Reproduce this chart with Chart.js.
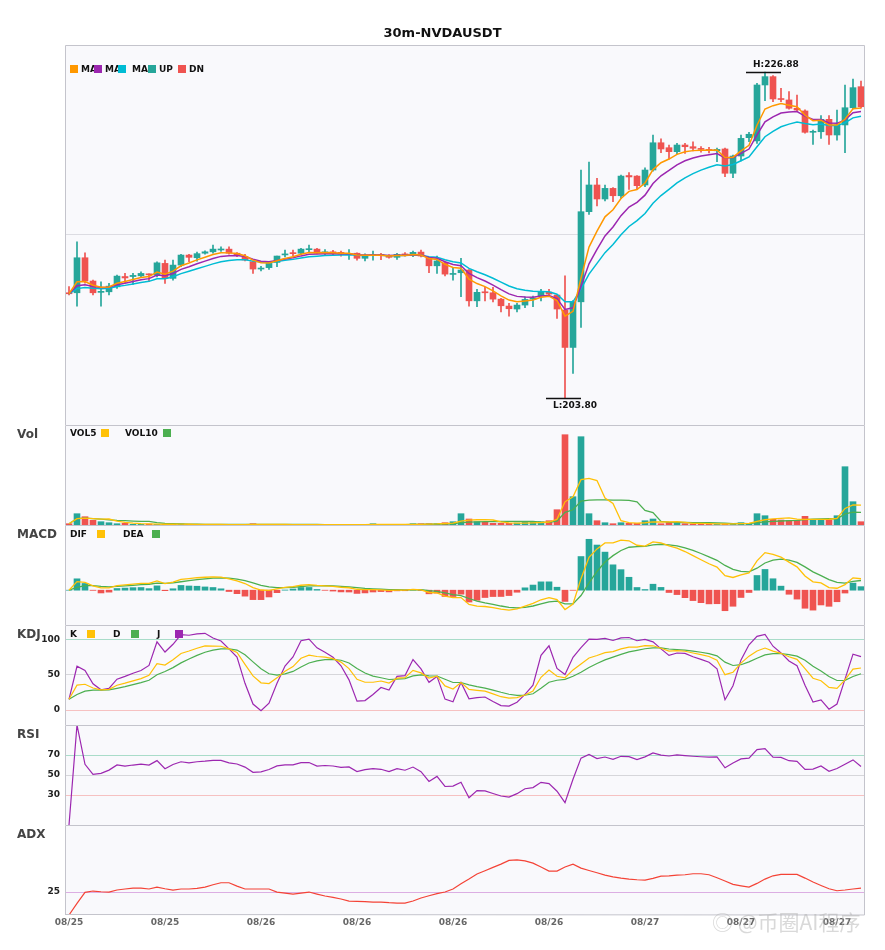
<!DOCTYPE html>
<html lang="zh">
<head>
<meta charset="UTF-8">
<title>30m-NVDAUSDT</title>
<script src="https://cdn.jsdelivr.net/npm/chart.js@4.4.1/dist/chart.umd.min.js"></script>
<style>
  body { margin: 0; background: #fff; }
  #wrap { position: relative; width: 885px; height: 950px; }
  .panel { position: absolute; left: 0; width: 885px; }
  .mark { position: absolute; left: 712px; top: 906px; font: 21px "Noto Sans CJK SC", sans-serif; color: rgba(170, 170, 170, 0.45); white-space: nowrap; }
</style>
</head>
<body>
<div id="wrap">
  <div class="panel" style="top:0;height:425px"><canvas id="mainChart"></canvas></div>
  <div class="panel" style="top:425px;height:100px"><canvas id="volChart"></canvas></div>
  <div class="panel" style="top:525px;height:100px"><canvas id="macdChart"></canvas></div>
  <div class="panel" style="top:625px;height:100px"><canvas id="kdjChart"></canvas></div>
  <div class="panel" style="top:725px;height:100px"><canvas id="rsiChart"></canvas></div>
  <div class="panel" style="top:825px;height:125px"><canvas id="adxChart"></canvas></div>
  <div class="mark">◎ @币圈AI程序</div>
</div>

<script>
// 30m candles
const openP = [211.22, 211.25, 213.73, 212.08, 211.28, 211.32, 211.67, 212.40, 212.40, 212.45,
  212.58, 212.50, 213.33, 212.27, 213.21, 213.92, 213.73, 214.05, 214.15, 214.28,
  214.34, 214.05, 213.80, 213.45, 212.93, 213.03, 213.40, 213.93, 214.08, 214.05,
  214.30, 214.34, 214.08, 214.14, 214.11, 213.95, 214.05, 213.69, 213.90, 213.96,
  213.88, 213.76, 214.00, 213.88, 214.13, 213.69, 213.16, 213.37, 212.55, 212.67,
  212.86, 210.68, 211.32, 211.25, 210.80, 210.31, 210.10, 210.38, 210.80, 211.02,
  211.30, 211.09, 210.03, 207.38, 210.61, 216.99, 218.88, 217.89, 218.64, 218.12,
  219.55, 219.51, 218.88, 219.94, 221.87, 221.52, 221.24, 221.71, 221.59, 221.46,
  221.40, 221.30, 221.43, 219.71, 220.93, 222.23, 222.00, 225.96, 226.55, 225.00,
  224.90, 224.31, 224.12, 222.61, 222.65, 223.53, 222.42, 223.13, 224.35, 225.84];
const highP = [211.68, 214.86, 214.08, 212.15, 212.03, 211.92, 212.50, 212.62, 212.62, 212.74,
  212.60, 213.44, 213.57, 213.57, 213.97, 213.97, 214.13, 214.22, 214.62, 214.50,
  214.50, 214.10, 213.97, 213.50, 213.13, 213.45, 213.85, 214.27, 214.27, 214.40,
  214.62, 214.40, 214.30, 214.25, 214.20, 214.30, 214.08, 214.00, 214.20, 214.05,
  213.95, 214.05, 214.10, 214.20, 214.27, 213.75, 213.85, 213.45, 212.98, 213.69,
  212.90, 211.49, 211.63, 211.63, 210.85, 210.50, 210.50, 210.97, 211.02, 211.49,
  211.49, 211.10, 212.45, 210.70, 219.94, 220.51, 219.35, 218.88, 218.70, 219.59,
  219.75, 219.55, 220.10, 222.42, 222.14, 221.71, 221.83, 221.83, 221.94, 221.60,
  221.55, 221.50, 221.50, 221.00, 222.42, 222.61, 226.08, 226.88, 226.62, 225.72,
  225.49, 225.25, 224.20, 222.77, 223.79, 223.79, 224.19, 225.96, 226.38, 226.24];
const lowP = [211.09, 210.31, 211.93, 211.09, 210.31, 211.09, 211.55, 211.96, 211.85, 212.34,
  212.03, 212.38, 211.92, 212.15, 213.10, 213.45, 213.48, 213.98, 214.05, 214.17,
  213.98, 213.80, 213.50, 212.62, 212.79, 212.90, 213.10, 213.78, 213.85, 214.00,
  214.15, 214.00, 213.95, 213.90, 213.85, 213.62, 213.55, 213.50, 213.55, 213.60,
  213.70, 213.62, 213.85, 213.80, 213.78, 212.67, 212.62, 212.45, 212.15, 210.97,
  210.31, 210.26, 210.68, 210.61, 209.90, 209.60, 209.90, 210.20, 210.26, 210.68,
  211.10, 209.44, 203.80, 205.54, 208.80, 216.80, 217.39, 217.75, 217.70, 217.93,
  218.57, 218.57, 218.76, 219.85, 221.17, 220.70, 221.10, 221.12, 221.30, 221.20,
  221.15, 220.53, 219.47, 219.40, 220.58, 221.94, 221.83, 224.85, 224.78, 224.78,
  224.25, 224.07, 222.54, 221.76, 222.18, 221.76, 222.06, 221.17, 224.26, 224.31];
const closeP = [211.18, 213.73, 212.08, 211.25, 211.35, 211.72, 212.43, 212.30, 212.48, 212.62,
  212.52, 213.37, 212.27, 213.21, 213.92, 213.76, 214.02, 214.15, 214.34, 214.34,
  214.05, 213.92, 213.57, 212.93, 213.00, 213.33, 213.85, 214.00, 214.02, 214.34,
  214.35, 214.05, 214.12, 214.08, 213.98, 214.02, 213.69, 213.85, 213.94, 213.90,
  213.76, 213.97, 213.88, 214.11, 213.85, 213.16, 213.50, 212.57, 212.60, 212.86,
  210.68, 211.28, 211.25, 210.80, 210.33, 210.12, 210.38, 210.78, 210.87, 211.32,
  211.16, 210.10, 207.38, 210.61, 216.99, 218.88, 217.89, 218.64, 218.12, 219.51,
  219.45, 218.83, 219.94, 221.87, 221.43, 221.24, 221.71, 221.59, 221.48, 221.40,
  221.33, 221.40, 219.71, 220.93, 222.18, 222.47, 225.96, 226.55, 224.97, 224.93,
  224.31, 224.19, 222.61, 222.68, 223.53, 222.42, 223.13, 224.35, 225.77, 224.42];
const volume = [1300, 11300, 8300, 4700, 3300, 2300, 1300, 1700, 700, 700,
  1000, 700, 700, 700, 1000, 700, 500, 400, 500, 400,
  500, 400, 500, 1300, 400, 400, 500, 300, 300, 400,
  300, 400, 300, 300, 300, 400, 500, 300, 1300, 400,
  300, 400, 300, 1300, 1300, 1300, 1300, 2300, 3300, 11300,
  6000, 3300, 2700, 1700, 1700, 1700, 2000, 2700, 2700, 3300,
  4300, 15300, 90300, 28300, 88300, 11300, 4300, 2300, 1300, 2300,
  1700, 1700, 4300, 6000, 1300, 2700, 2300, 1300, 1000, 1000,
  1000, 1000, 1000, 1700, 2300, 1700, 11300, 9300, 5700, 5000,
  4300, 4700, 8700, 5300, 5000, 5000, 9300, 58300, 23300, 3300];
const adxVals = [0, 12.6, 24.6, 26.1, 25.3, 25.0, 27.2, 28.3, 29.3, 29.3,
  28.3, 30.4, 28.6, 27.2, 28.3, 28.3, 28.9, 30.4, 32.9, 35.1,
  35.1, 31.5, 28.3, 28.3, 28.3, 28.3, 25.0, 23.9, 22.8, 23.9,
  25.0, 22.8, 20.7, 19.2, 17.4, 15.2, 14.9, 14.5, 14.1, 14.1,
  13.4, 13.0, 13.0, 15.2, 18.5, 21.0, 23.2, 25.0, 28.3, 34.0,
  39.1, 44.6, 48.2, 51.8, 55.4, 59.4, 60.1, 59.0, 56.5, 52.2,
  47.8, 47.8, 52.2, 55.4, 51.1, 48.5, 46.0, 43.5, 41.6, 40.2,
  39.1, 38.4, 38.0, 39.8, 42.4, 42.7, 43.5, 43.8, 44.9, 44.9,
  43.8, 40.5, 37.0, 33.3, 31.8, 30.4, 34.4, 39.1, 42.7, 44.2,
  44.2, 44.2, 40.2, 35.9, 32.2, 28.6, 26.4, 27.2, 28.3, 29.3];

const startTime = new Date(2025, 7, 25, 14, 0);
const timeLabels = closeP.map((_, i) => {
  const d = new Date(startTime.getTime() + i * 30 * 60000);
  const p = n => String(n).padStart(2, '0');
  return `${p(d.getMonth() + 1)}/${p(d.getDate())} ${p(d.getHours())}:${p(d.getMinutes())}`;
});

const UP = '#26a69a', DN = '#ef5350';
const FONT = '"DejaVu Sans", sans-serif';

// indicators
function ma(arr, n) {
  return arr.map((_, i) => {
    const s = arr.slice(Math.max(0, i - n + 1), i + 1);
    return s.reduce((a, b) => a + b, 0) / s.length;
  });
}
function ema(arr, n) {
  const k = 2 / (n + 1);
  const out = [arr[0]];
  for (let i = 1; i < arr.length; i++) out.push(arr[i] * k + out[i - 1] * (1 - k));
  return out;
}
function rsiCalc(arr, n) {
  const out = [0];
  let ag = 0, al = 0;
  for (let i = 1; i < arr.length; i++) {
    const d = arr[i] - arr[i - 1];
    const g = Math.max(d, 0), l = Math.max(-d, 0);
    const m = Math.min(i, n);
    ag = (ag * (m - 1) + g) / m;
    al = (al * (m - 1) + l) / m;
    out.push(ag + al === 0 ? 50 : ag / (ag + al) * 100);
  }
  return out;
}
function kdjCalc(n) {
  const K = [], D = [], J = [];
  closeP.forEach((c, i) => {
    const s = Math.max(0, i - n + 1);
    const hh = Math.max(...highP.slice(s, i + 1));
    const ll = Math.min(...lowP.slice(s, i + 1));
    const rsv = hh === ll ? 50 : (c - ll) / (hh - ll) * 100;
    const k = i === 0 ? rsv : K[i - 1] * 2 / 3 + rsv / 3;
    const d = i === 0 ? rsv : D[i - 1] * 2 / 3 + k / 3;
    K.push(k); D.push(d); J.push(3 * k - 2 * d);
  });
  return { K, D, J };
}

const ma5 = ema(closeP, 5), ma10 = ema(closeP, 8), ma20 = ema(closeP, 13);
const vol5 = ma(volume, 5), vol10 = ma(volume, 10);
const emaFast = ema(closeP, 6), emaSlow = ema(closeP, 13);
const dif = emaFast.map((v, i) => v - emaSlow[i]);
const dea = ema(dif, 5);
const macdHist = dif.map((v, i) => (v - dea[i]) * 2);
const kdj = kdjCalc(9);
const rsi = rsiCalc(closeP, 14);
const candleColors = closeP.map((c, i) => c >= openP[i] ? UP : DN);

// MACD panel range with some room above and below
const macdAll = dif.concat(dea, macdHist);
const macdHi = Math.max(...macdAll), macdLo = Math.min(...macdAll);
const macdPad = (macdHi - macdLo) * 0.2;

Chart.defaults.font.family = FONT;
Chart.defaults.animation = false;

// background, border, side title and legend for each panel
function panelPlugin(title, legend, lastPanel) {
  return {
    id: 'panel',
    beforeDraw(chart) {
      const a = chart.chartArea, ctx = chart.ctx;
      ctx.save();
      ctx.fillStyle = '#f9f9fc';
      ctx.fillRect(a.left, a.top, a.right - a.left, a.bottom - a.top);
      ctx.restore();
    },
    afterDraw(chart) {
      const a = chart.chartArea, ctx = chart.ctx;
      ctx.save();
      ctx.strokeStyle = '#c4c4cc';
      ctx.lineWidth = 1;
      ctx.beginPath();
      ctx.moveTo(a.left + 0.5, a.bottom);
      ctx.lineTo(a.left + 0.5, a.top + 0.5);
      ctx.lineTo(a.right - 0.5, a.top + 0.5);
      ctx.lineTo(a.right - 0.5, a.bottom);
      if (lastPanel) ctx.lineTo(a.left + 0.5, a.bottom - 0.5);
      ctx.stroke();
      ctx.textBaseline = 'middle';
      ctx.textAlign = 'left';
      if (title) {
        ctx.fillStyle = '#444';
        ctx.font = 'bold 12px ' + FONT;
        ctx.fillText(title, 17, a.top + 10);
      }
      ctx.font = 'bold 9px ' + FONT;
      legend.forEach((it, k) => {
        const cy = a.top + it.dy;
        ctx.fillStyle = it.color;
        ctx.fillRect(it.bx, cy - 4, 8, 8);
        ctx.save();
        const next = legend[k + 1];
        if (next && next.bx > it.tx) {
          ctx.beginPath();
          ctx.rect(it.tx, cy - 8, next.bx - it.tx, 16);
          ctx.clip();
        }
        ctx.fillStyle = '#111';
        ctx.fillText(it.text, it.tx, cy + 0.5);
        ctx.restore();
      });
      ctx.restore();
    }
  };
}

const titlePlugin = {
  id: 'mainTitle',
  afterDraw(chart) {
    const ctx = chart.ctx;
    ctx.save();
    ctx.fillStyle = '#111';
    ctx.font = 'bold 13px ' + FONT;
    ctx.textAlign = 'center';
    ctx.textBaseline = 'middle';
    ctx.fillText('30m-NVDAUSDT', chart.width / 2, 34);
    ctx.restore();
  }
};

const hlPlugin = {
  id: 'hl',
  afterDatasetsDraw(chart) {
    const ctx = chart.ctx, x = chart.scales.x, y = chart.scales.y;
    const hi = highP.indexOf(Math.max(...highP));
    const lo = lowP.indexOf(Math.min(...lowP));
    ctx.save();
    ctx.strokeStyle = '#111';
    ctx.fillStyle = '#111';
    ctx.lineWidth = 1.5;
    ctx.font = 'bold 9px ' + FONT;
    ctx.textAlign = 'left';
    [[hi, highP[hi], 'H:', -1], [lo, lowP[lo], 'L:', 1]].forEach(([i, v, p, dir]) => {
      const px = x.getPixelForValue(i), py = Math.round(y.getPixelForValue(v)) + 0.5;
      ctx.beginPath();
      ctx.moveTo(px - 19, py);
      ctx.lineTo(px + 16, py);
      ctx.stroke();
      ctx.textBaseline = dir < 0 ? 'bottom' : 'top';
      ctx.fillText(p + v.toFixed(2), px - 12, py + dir * 3);
    });
    ctx.restore();
  }
};

function xScale(show) {
  return {
    type: 'category',
    labels: timeLabels,
    offset: true,
    display: show,
    grid: { display: false, drawTicks: false },
    border: { display: false },
    ticks: {
      autoSkip: false, maxRotation: 0, padding: 2,
      color: '#666', font: { size: 9, weight: 'bold' },
      callback: function (v, i) { return i % 12 === 0 ? this.getLabelForValue(v).slice(0, 5) : null; }
    },
    afterFit: s => {
      s.paddingLeft = 0; s.paddingRight = 0;
      if (show) s.height = 35;
    }
  };
}

function yScale(opts, tickVals, colors) {
  return Object.assign({
    position: 'left',
    border: { display: false },
    afterFit: s => { s.width = 65; s.paddingTop = 0; s.paddingBottom = 0; },
    afterBuildTicks: s => { s.ticks = tickVals.map(v => ({ value: v })); },
    grid: {
      display: tickVals.length > 0, drawTicks: false,
      color: c => colors[tickVals.indexOf(c.tick.value)] || '#ddd'
    },
    ticks: {
      display: opts.labels !== false,
      padding: 5, color: '#222', font: { size: 9, weight: 'bold' }
    }
  }, opts);
}

function baseOptions(scales, padTop) {
  return {
    responsive: true,
    maintainAspectRatio: false,
    layout: { padding: { left: 0, right: 20, top: padTop || 0, bottom: 0 } },
    events: [],
    plugins: { legend: { display: false }, tooltip: { enabled: false }, title: { display: false } },
    scales: scales
  };
}

function line(data, color, w) {
  return { type: 'line', data: data, borderColor: color, borderWidth: w || 1.3, pointRadius: 0, tension: 0, fill: false, order: 0 };
}

// main candle chart
new Chart(document.getElementById('mainChart'), {
  type: 'bar',
  data: {
    labels: timeLabels,
    datasets: [
      line(ma5, '#ff9800', 1.5),
      line(ma10, '#9c27b0', 1.5),
      line(ma20, '#00bcd4', 1.5),
      { data: openP.map((o, i) => [o, closeP[i]]), backgroundColor: candleColors, barThickness: 6, minBarLength: 1, grouped: false, order: 1 },
      { data: lowP.map((l, i) => [l, highP[i]]), backgroundColor: candleColors, barThickness: 1, grouped: false, order: 2 }
    ]
  },
  options: baseOptions({
    x: xScale(false),
    y: yScale({ min: 201.89, max: 228.79, labels: false }, [215.34], ['#dcdce2'])
  }, 45),
  plugins: [panelPlugin('', [
    { text: 'MA5', tx: 81, bx: 70, dy: 24, color: '#ff9800' },
    { text: 'MA8', tx: 105, bx: 94, dy: 24, color: '#9c27b0' },
    { text: 'MA13', tx: 132, bx: 118, dy: 24, color: '#00bcd4' },
    { text: 'UP', tx: 159, bx: 148, dy: 24, color: UP },
    { text: 'DN', tx: 189, bx: 178, dy: 24, color: DN }
  ]), hlPlugin, titlePlugin]
});

// volume
new Chart(document.getElementById('volChart'), {
  type: 'bar',
  data: {
    labels: timeLabels,
    datasets: [
      line(vol5, '#ffc107', 1.3),
      line(vol10, '#4caf50', 1.3),
      { data: volume, backgroundColor: candleColors, barThickness: 6, order: 1 }
    ]
  },
  options: baseOptions({ x: xScale(false), y: yScale({ min: 0, max: 100000, labels: false }, [], []) }),
  plugins: [panelPlugin('Vol', [
    { text: 'VOL5', tx: 70, bx: 101, dy: 8, color: '#ffc107' },
    { text: 'VOL10', tx: 125, bx: 163, dy: 8, color: '#4caf50' }
  ])]
});

// MACD
new Chart(document.getElementById('macdChart'), {
  type: 'bar',
  data: {
    labels: timeLabels,
    datasets: [
      line(dif, '#ffc107', 1.3),
      line(dea, '#4caf50', 1.3),
      { data: macdHist, backgroundColor: macdHist.map(v => v >= 0 ? UP : DN), barThickness: 6, order: 1 }
    ]
  },
  options: baseOptions({
    x: xScale(false),
    y: yScale({ min: macdLo - macdPad, max: macdHi + macdPad, labels: false }, [], [])
  }),
  plugins: [panelPlugin('MACD', [
    { text: 'DIF', tx: 70, bx: 97, dy: 9, color: '#ffc107' },
    { text: 'DEA', tx: 123, bx: 152, dy: 9, color: '#4caf50' }
  ])]
});

// KDJ
new Chart(document.getElementById('kdjChart'), {
  type: 'line',
  data: {
    labels: timeLabels,
    datasets: [line(kdj.K, '#ffc107', 1.2), line(kdj.D, '#4caf50', 1.2), line(kdj.J, '#9c27b0', 1.2)]
  },
  options: baseOptions({
    x: xScale(false),
    y: yScale({ min: -21, max: 120 }, [0, 50, 100], ['#f6c1c1', '#d6d6da', '#a9dcc9'])
  }),
  plugins: [panelPlugin('KDJ', [
    { text: 'K', tx: 70, bx: 87, dy: 9, color: '#ffc107' },
    { text: 'D', tx: 113, bx: 131, dy: 9, color: '#4caf50' },
    { text: 'J', tx: 157, bx: 175, dy: 9, color: '#9c27b0' }
  ])]
});

// RSI
new Chart(document.getElementById('rsiChart'), {
  type: 'line',
  data: { labels: timeLabels, datasets: [line(rsi, '#9c27b0', 1.2)] },
  options: baseOptions({
    x: xScale(false),
    y: yScale({ min: 0, max: 100 }, [30, 50, 70], ['#f6c1c1', '#d6d6da', '#a9dcc9'])
  }),
  plugins: [panelPlugin('RSI', [])]
});

// ADX
new Chart(document.getElementById('adxChart'), {
  type: 'line',
  data: { labels: timeLabels, datasets: [line(adxVals, '#f44336', 1.2)] },
  options: baseOptions({
    x: xScale(true),
    y: yScale({ min: 0, max: 98 }, [25], ['#dcaee3'])
  }),
  plugins: [panelPlugin('ADX', [], true)]
});
</script>
</body>
</html>
